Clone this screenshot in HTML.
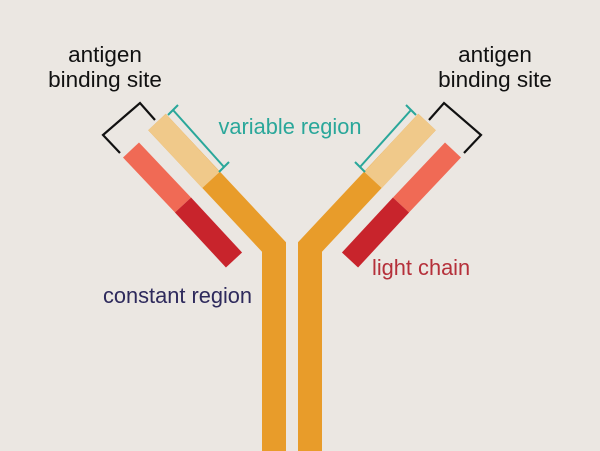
<!DOCTYPE html>
<html><head><style>
html,body{margin:0;padding:0;background:#ebe7e2;}
svg{display:block;}
text{font-family:"Liberation Sans",sans-serif;}
</style></head><body>
<svg width="600" height="451" viewBox="0 0 600 451">
<rect width="600" height="451" fill="#ebe7e2"/>
<g id="L">
  <polyline points="157,122 274,247 274,460" fill="none" stroke="#e89c2a" stroke-width="24" stroke-linejoin="miter"/>
  <line x1="157" y1="122" x2="211" y2="180" stroke="#f0c98a" stroke-width="24"/>
  <line x1="131" y1="150" x2="183" y2="205" stroke="#f06a55" stroke-width="22"/>
  <line x1="183" y1="205" x2="234" y2="260" stroke="#c8242c" stroke-width="22"/>
  <polyline points="155,120 140,103 103,135 120,153" fill="none" stroke="#111" stroke-width="2.2"/>
  <line x1="173" y1="110" x2="224" y2="167" stroke="#2aa79a" stroke-width="2"/>
  <line x1="168" y1="115" x2="178" y2="105" stroke="#2aa79a" stroke-width="2"/>
  <line x1="219" y1="172" x2="229" y2="162" stroke="#2aa79a" stroke-width="2"/>
</g>
<g transform="translate(584,0) scale(-1,1)">
  <polyline points="157,122 274,247 274,460" fill="none" stroke="#e89c2a" stroke-width="24" stroke-linejoin="miter"/>
  <line x1="157" y1="122" x2="211" y2="180" stroke="#f0c98a" stroke-width="24"/>
  <line x1="131" y1="150" x2="183" y2="205" stroke="#f06a55" stroke-width="22"/>
  <line x1="183" y1="205" x2="234" y2="260" stroke="#c8242c" stroke-width="22"/>
  <polyline points="155,120 140,103 103,135 120,153" fill="none" stroke="#111" stroke-width="2.2"/>
  <line x1="173" y1="110" x2="224" y2="167" stroke="#2aa79a" stroke-width="2"/>
  <line x1="168" y1="115" x2="178" y2="105" stroke="#2aa79a" stroke-width="2"/>
  <line x1="219" y1="172" x2="229" y2="162" stroke="#2aa79a" stroke-width="2"/>
</g>
<text x="105" y="62" font-size="22.5" fill="#111" text-anchor="middle">antigen</text>
<text x="105" y="87" font-size="22.5" fill="#111" text-anchor="middle">binding site</text>
<text x="495" y="62" font-size="22.5" fill="#111" text-anchor="middle">antigen</text>
<text x="495" y="87" font-size="22.5" fill="#111" text-anchor="middle">binding site</text>
<text x="290" y="134" font-size="21.8" fill="#2aa79a" text-anchor="middle">variable region</text>
<text x="103" y="303" font-size="21.8" fill="#2e2a5c">constant region</text>
<text x="372" y="275" font-size="21.8" fill="#b5303a">light chain</text>
</svg>
</body></html>
